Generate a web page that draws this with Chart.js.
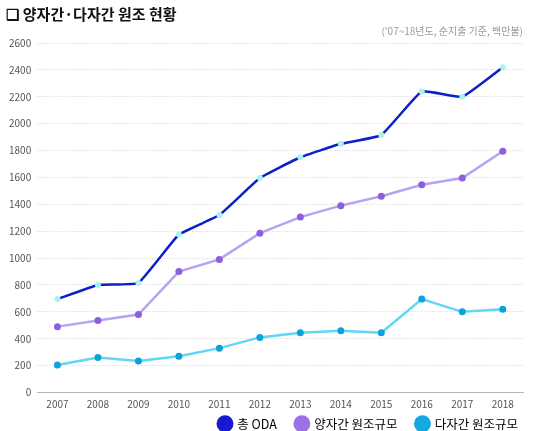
<html>
  <head>
    <style>
      body { margin: 0; background: #fff; overflow: hidden; }
    </style>
  </head>
  <body>
    <div>
    <canvas id="odaChart" width="537" height="431"></canvas>
    </div>
  </body>
</html>

<script src="https://cdn.jsdelivr.net/npm/chart.js"></script>
<script>

  let years = ['2007','2008','2009','2010','2011','2012','2013','2014','2015','2016','2017','2018'];
  let totalOda = [695, 800, 815, 1175, 1320, 1595, 1750, 1850, 1915, 2240, 2200, 2420];
  let bilateral = [490, 535, 580, 900, 990, 1185, 1305, 1390, 1460, 1545, 1595, 1795];
  let multilateral = [205, 260, 235, 270, 330, 410, 445, 460, 445, 695, 600, 620];
  let yTicks = [0, 200, 400, 600, 800, 1000, 1200, 1400, 1600, 1800, 2000, 2200, 2400, 2600];

  let legendDots = ['#1919d2', '#9b72e3', '#12a8e2']; // legend circles are a bit different from lines

  let font = "'Noto Sans CJK KR', 'Noto Sans', sans-serif";

  let data = {
    labels: years,
    datasets: [{
      label: '총 ODA',
      data: totalOda,
      borderColor: '#0d1fc9',
      backgroundColor: '#a8f2ef',
      pointBackgroundColor: '#a8f2ef',
      pointBorderWidth: 0,
      pointRadius: 3,
      borderWidth: 2.5,
      tension: 0.1
    }, {
      label: '양자간 원조규모',
      data: bilateral,
      borderColor: '#b4a4f2',
      backgroundColor: '#8c5fe0',
      pointBackgroundColor: '#8c5fe0',
      pointBorderWidth: 0,
      pointRadius: 3.5,
      borderWidth: 2.5,
      tension: 0
    }, {
      label: '다자간 원조규모',
      data: multilateral,
      borderColor: '#62d6f5',
      backgroundColor: '#0ca2dc',
      pointBackgroundColor: '#0ca2dc',
      pointBorderWidth: 0,
      pointRadius: 3.5,
      borderWidth: 2.5,
      tension: 0
    }]
  };

  let config = {
    type: 'line',
    data: data,
    options: {
      responsive: false,
      animation: false,
      // legend box keeps 10px spare at its bottom, so pull it down a bit
      layout: { padding: { left: 3, right: 14, top: 5, bottom: -9 } },
      plugins: {
        title: {
          display: true,
          text: ' ❏ 양자간·다자간 원조 현황',
          align: 'start',
          color: '#111',
          font: { family: font, size: 15, weight: 'bold' },
          padding: { top: 0, bottom: 2 }
        },
        subtitle: {
          display: true,
          text: "('07~18년도, 순지출 기준, 백만불)",
          align: 'end',
          color: '#9a9a9a',
          font: { family: font, size: 10 },
          padding: { top: 0, bottom: 6 }
        },
        legend: {
          position: 'bottom',
          align: 'end',
          labels: {
            usePointStyle: true,
            pointStyle: 'circle',
            boxWidth: 12,
            boxHeight: 12,
            padding: 5,
            color: '#222',
            font: { family: font, size: 12.5 },
            generateLabels: function(chart) {
              let n = chart.data.datasets.length;
              return chart.data.datasets.map(function(ds, i) {
                return {
                  // extra gap after each item except the last one
                  text: i < n - 1 ? ds.label + '     ' : ds.label,
                  fillStyle: legendDots[i],
                  strokeStyle: legendDots[i],
                  lineWidth: 0,
                  pointStyle: 'circle',
                  datasetIndex: i
                };
              });
            }
          }
        },
        tooltip: { enabled: false }
      },
      scales: {
        x: {
          offset: true,
          grid: { display: false, drawTicks: false },
          border: { display: true, color: '#b5b5b5', width: 1 },
          ticks: { color: '#555', font: { family: font, size: 10 }, padding: 6 },
          afterFit: function(axis) { axis.height = axis.height - 4; }
        },
        y: {
          min: 0,
          max: 2600,
          afterBuildTicks: function(axis) {
            axis.ticks = yTicks.map(function(v) { return { value: v }; });
          },
          grid: { color: '#d6d6d6', lineWidth: 1, drawTicks: false },
          border: { display: false, dash: [1, 1.5] },
          ticks: {
            color: '#555',
            font: { family: font, size: 10 },
            padding: 6,
            callback: function(v) { return String(v); }
          }
        }
      }
    }
  };

  let odaChart = new Chart(document.getElementById('odaChart'), config);

</script>
